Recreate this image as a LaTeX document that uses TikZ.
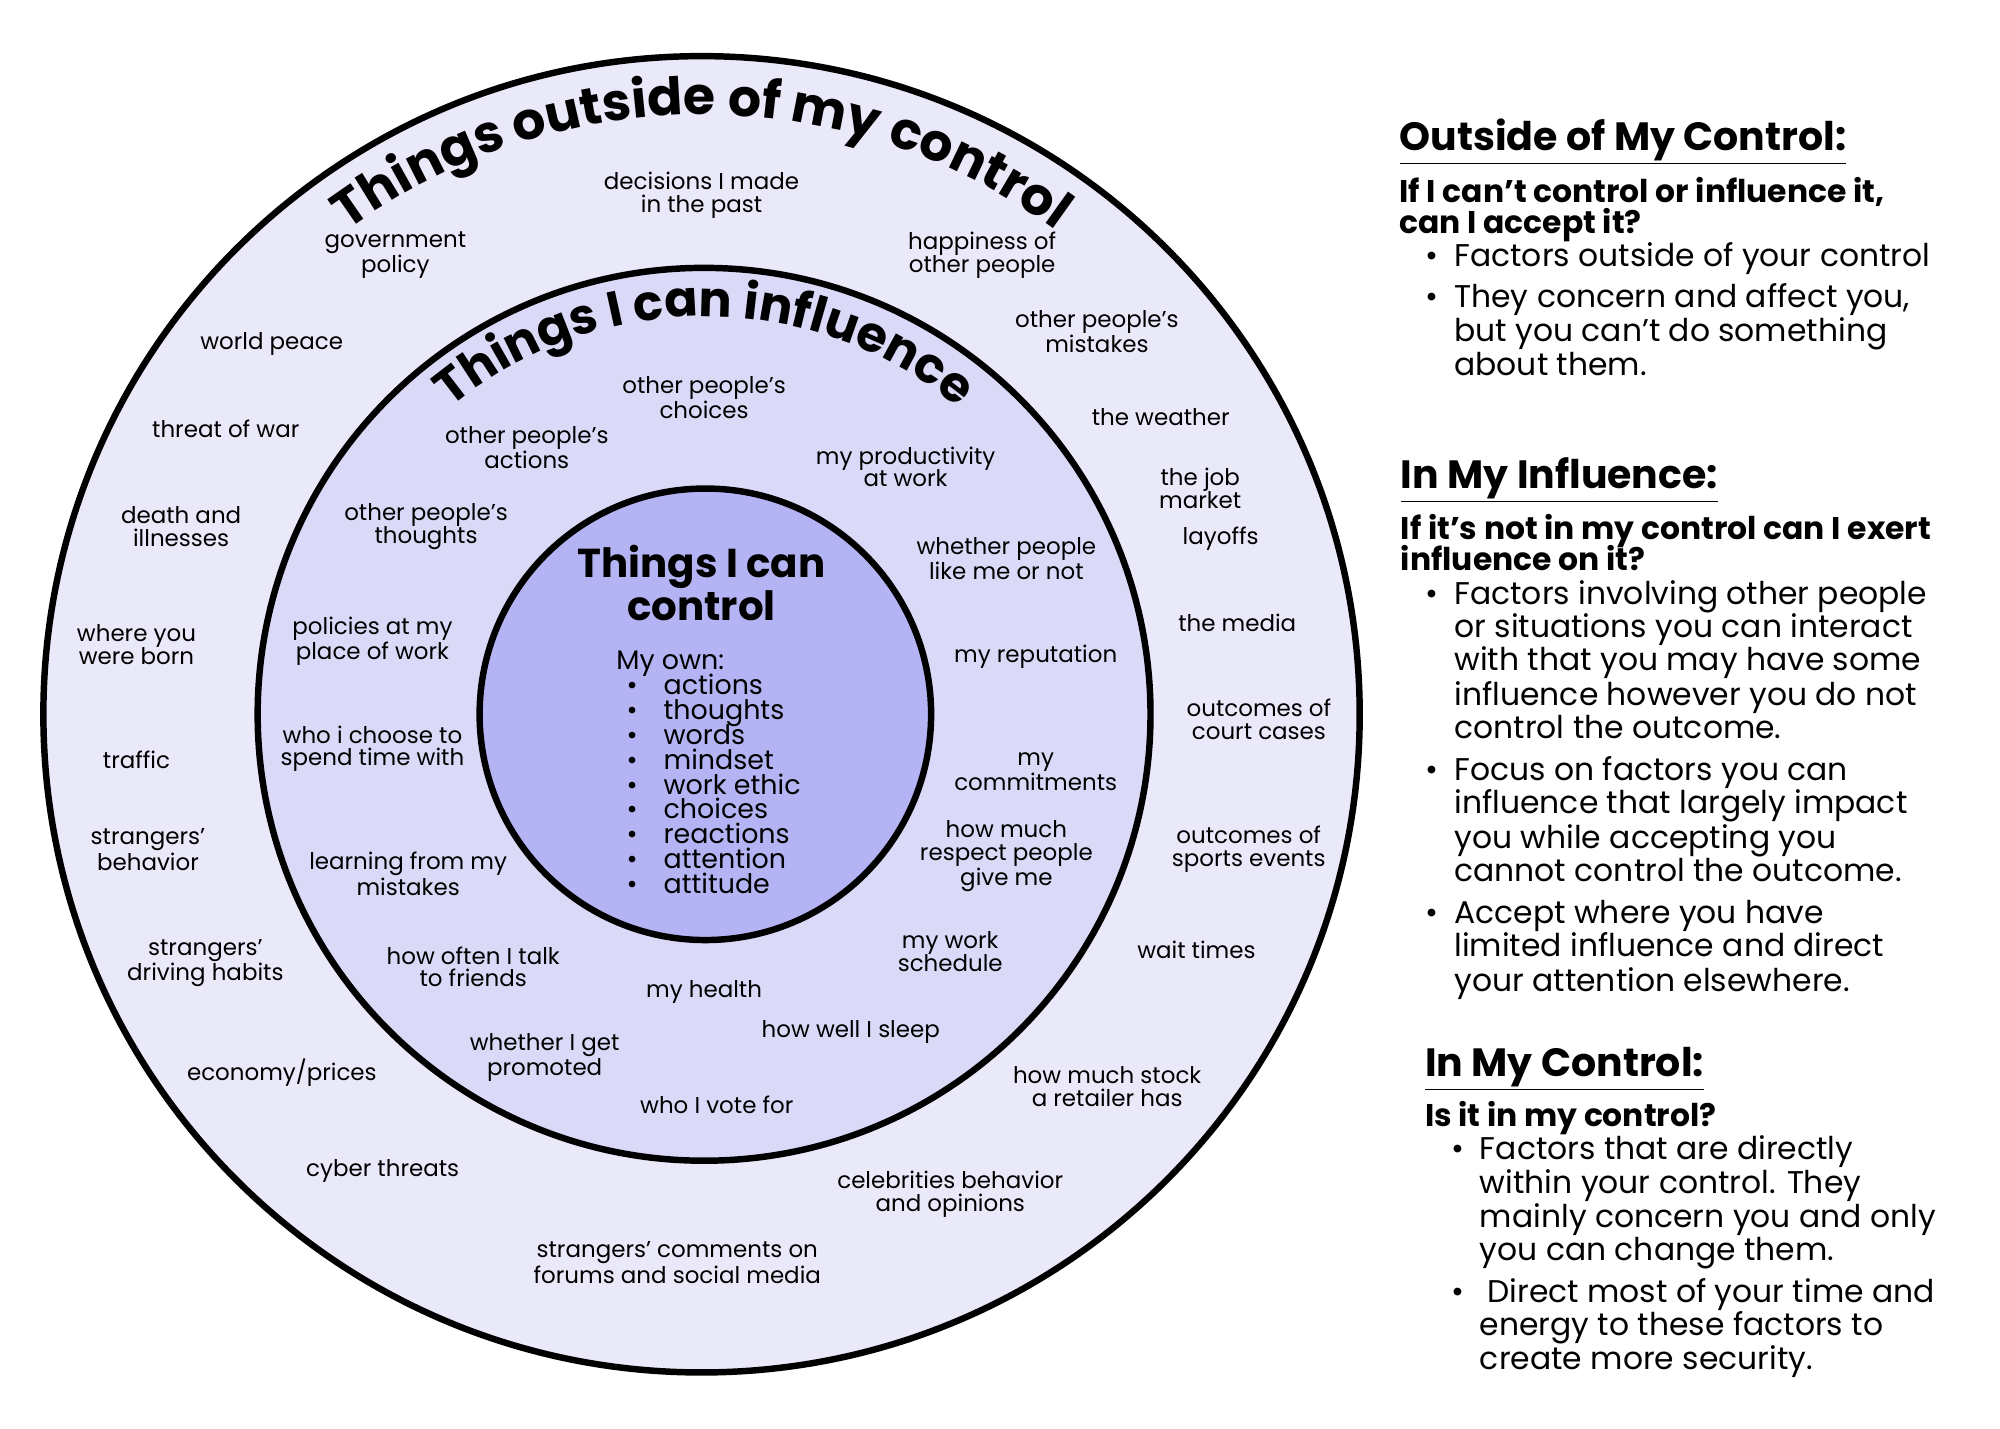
\documentclass[tikz,border=0pt]{standalone}
\usepackage{fontspec}
\setmainfont{Poppins}
\usetikzlibrary{decorations.text}
\definecolor{outerc}{HTML}{E9E9FA}
\definecolor{midc}{HTML}{DADAF8}
\definecolor{innc}{HTML}{B4B4F4}
\newcommand{\lbl}{\fontsize{12.8}{12.8}\selectfont}
\newcommand{\bodyf}{\fontsize{17.5}{18}\selectfont}
\begin{document}
\begin{tikzpicture}[x=0.025cm,y=-0.025cm,
  lab/.style={align=center,font=\lbl,inner sep=0pt},
  rline/.style={anchor=base west,font=\bodyf,inner sep=0pt},
  rbold/.style={anchor=base west,font=\bodyf\bfseries,inner sep=0pt},
  rhead/.style={anchor=base west,font=\fontsize{22}{24}\selectfont\bfseries,inner sep=0pt},
  inl/.style={anchor=base west,font=\fontsize{15}{15}\selectfont,inner sep=0pt},
  ring/.style={draw=black,line width=3.6pt}]
\useasboundingbox[fill=white] (0,0) rectangle (1568,1120);
\draw[ring,fill=outerc] (550,560) circle[radius=516];
\draw[ring,fill=midc] (552,560) circle[radius=350];
\draw[ring,fill=innc] (553,560) circle[radius=177];
% curved titles
\path[decorate,decoration={text along path,text align=center,
  text={|\fontsize{29}{32}\selectfont\bfseries|Things outside of my control}}]
  (13.75cm,-14cm) ++(135:11.75cm) arc[start angle=135,end angle=45,radius=11.75cm];
\path[decorate,decoration={text along path,text align=center,
  text={|\fontsize{27.5}{30}\selectfont\bfseries|Things I can influence}}]
  (13.8cm,-14cm) ++(135:7.8cm) arc[start angle=135,end angle=45,radius=7.8cm];
% outer items
\node[lab] (o1) at (550,153) {decisions I made\\in the past};
\node[lab] (o2) at (310,200) {government\\policy};
\node[lab] (o3) at (770,200) {happiness of\\other people};
\node[lab] (o4) at (213,270) {world peace};
\node[lab] (o5) at (860,260) {other people’s\\mistakes};
\node[lab] (o6) at (177,336) {threat of war};
\node[lab] (o7) at (910,327) {the weather};
\node[lab] (o8) at (142,413) {death and\\illnesses};
\node[lab] (o9) at (941,383) {the job\\market};
\node[lab] (o10) at (957,422) {layoffs};
\node[lab] (o11) at (107,505) {where you\\were born};
\node[lab] (o12) at (970,488) {the media};
\node[lab] (o13) at (987,564) {outcomes of\\court cases};
\node[lab] (o14) at (107,596) {traffic};
\node[lab] (o15) at (116,666) {strangers’\\behavior};
\node[lab] (o16) at (979,666) {outcomes of\\sports events};
\node[lab] (o17) at (161,755) {strangers’\\driving habits};
\node[lab] (o18) at (938,745) {wait times};
\node[lab] (o19) at (221,841) {economy/prices};
\node[lab] (o20) at (868,852) {how much stock\\a retailer has};
\node[lab] (o21) at (300,918) {cyber threats};
\node[lab] (o22) at (745,936) {celebrities behavior\\and opinions};
\node[lab] (o23) at (531,990) {strangers’ comments on\\forums and social media};
% middle items
\node[lab] (m1) at (552,312) {other people’s\\choices};
\node[lab] (m2) at (413,351) {other people’s\\actions};
\node[lab] (m3) at (710,366) {my productivity\\at work};
\node[lab] (m4) at (334,413) {other people’s\\thoughts};
\node[lab] (m5) at (789,438) {whether people\\like me or not};
\node[lab] (m6) at (292,503) {policies at my\\place of work};
\node[lab] (m7) at (812,515) {my reputation};
\node[lab] (m8) at (292,587) {who i choose to\\spend time with};
\node[lab] (m9) at (812,605) {my\\commitments};
\node[lab] (m10) at (789,671) {how much\\respect people\\give me};
\node[lab] (m11) at (320,685) {learning from my\\mistakes};
\node[lab] (m12) at (745,746) {my work\\schedule};
\node[lab] (m13) at (371,758) {how often I talk\\to friends};
\node[lab] (m14) at (552,778) {my health};
\node[lab] (m15) at (667,809) {how well I sleep};
\node[lab] (m16) at (427,829) {whether I get\\promoted};
\node[lab] (m17) at (562,866) {who I vote for};
% inner
\node[align=center,font=\fontsize{22.5}{24}\selectfont\bfseries,inner sep=0pt] (ti) at (550,457) {Things I can\\control};
\node[inl] (myown) at (483,525) {My own:};
\foreach \t [count=\i] in {actions,thoughts,words,mindset,work ethic,choices,reactions,attention,attitude}{
  \node[inl] (b\i) at (491,{525+19.5*\i}) {•};
  \node[inl] (it\i) at (520,{525+19.5*\i}) {\t};
}
% right panel
\node[rhead] (h1) at (1097,118) {\underline{Outside of My Control:}};
\node[rbold] (s1a) at (1097,159) {If I can’t control or influence it,};
\node[rbold] (s1b) at (1097,183) {can I accept it?};
\node[rline] (pb1) at (1117,209) {•};
\node[rline] (p1) at (1140,209) {Factors outside of your control};
\node[rline] (pb2) at (1117,241) {•};
\node[rline] (p2) at (1140,241) {They concern and affect you,};
\node[rline] (p3) at (1140,268) {but you can’t do something};
\node[rline] (p4) at (1140,294) {about them.};
\node[rhead] (h2) at (1098,383) {\underline{In My Influence:}};
\node[rbold] (s2a) at (1098,423) {If it’s not in my control can I exert};
\node[rbold] (s2b) at (1098,447) {influence on it?};
\node[rline] (qb1) at (1117,474) {•};
\node[rline] (q1) at (1140,474) {Factors involving other people};
\node[rline] (q2) at (1140,500) {or situations you can interact};
\node[rline] (q3) at (1140,526) {with that you may have some};
\node[rline] (q4) at (1140,553) {influence however you do not};
\node[rline] (q5) at (1140,579) {control the outcome.};
\node[rline] (qb2) at (1117,612) {•};
\node[rline] (q6) at (1140,612) {Focus on factors you can};
\node[rline] (q7) at (1140,638) {influence that largely impact};
\node[rline] (q8) at (1140,665) {you while accepting you};
\node[rline] (q9) at (1140,691) {cannot control the outcome.};
\node[rline] (qb3) at (1117,724) {•};
\node[rline] (q10) at (1140,724) {Accept where you have};
\node[rline] (q11) at (1140,750) {limited influence and direct};
\node[rline] (q12) at (1140,777) {your attention elsewhere.};
\node[rhead] (h3) at (1117,844) {\underline{In My Control:}};
\node[rbold] (s3) at (1117,883) {Is it in my control?};
\node[rline] (rb1) at (1138,909) {•};
\node[rline] (r1) at (1160,909) {Factors that are directly};
\node[rline] (r2) at (1160,936) {within your control. They};
\node[rline] (r3) at (1160,962) {mainly concern you and only};
\node[rline] (r4) at (1160,988) {you can change them.};
\node[rline] (rb2) at (1138,1021) {•};
\node[rline] (r5) at (1166,1021) {Direct most of your time and};
\node[rline] (r6) at (1160,1047) {energy to these factors to};
\node[rline] (r7) at (1160,1074) {create more security.};
\end{tikzpicture}
\end{document}
